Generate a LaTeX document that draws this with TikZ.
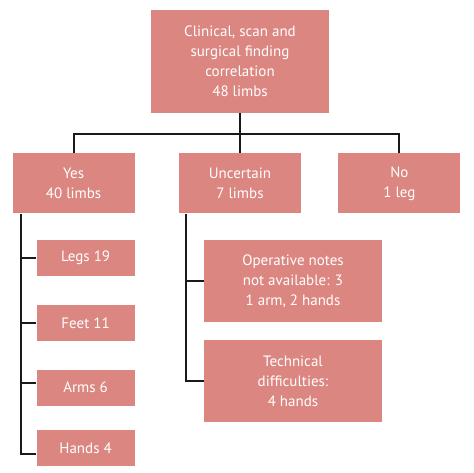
\documentclass[tikz,border=0pt]{standalone}
\usepackage{fontspec}
\setmainfont{PT Sans}
\usetikzlibrary{positioning,calc}
\definecolor{salmon}{RGB}{220,134,129}
\definecolor{linkgray}{RGB}{25,25,25}

\begin{document}
\begin{tikzpicture}[
    x=1pt, y=1pt,
    % --- Node styles ---
    box/.style={fill=salmon, text=white, align=center, inner sep=0pt,
                font=\fontsize{15}{20}\selectfont},
    level/.style={box, minimum width=122pt, minimum height=60pt},
    leaf/.style={box, minimum width=98pt, minimum height=36pt},
    note/.style={box, minimum width=178pt, minimum height=82pt},
    % --- Edge styles ---
    link/.style={draw=linkgray, line width=2pt},
]
\useasboundingbox (0,0) rectangle (474,-473);

% === Root ===
\node[box, minimum width=178pt, minimum height=103pt] (top) at (240,-61.5)
  {Clinical, scan and\\surgical finding\\correlation\\48 limbs};

% === Second level ===
\node[level, below=40pt of top] (unc) {Uncertain\\7 limbs};
\node[level, left=44pt of unc] (yes) {Yes\\40 limbs};
\node[level, right=37pt of unc] (no) {No\\1 leg};

% === Yes branch ===
\node[leaf, below right=26pt and 24pt of yes.south west, anchor=north west] (legs) {Legs 19};
\node[leaf, below=29pt of legs] (feet) {Feet 11};
\node[leaf, below=28pt of feet] (arms) {Arms 6};
\node[leaf, below=24pt of arms] (hands) {Hands 4};

% === Uncertain branch ===
\node[note, below right=26pt and 25pt of unc.south west, anchor=north west] (op)
  {Operative notes\\not available: 3\\1 arm, 2 hands};
\node[note, below=18pt of op] (tech) {Technical\\difficulties:\\4 hands};

% --- Connectors ---
\coordinate (bar) at ($(top.south)!0.525!(unc.north)$);
\draw[link] (top.south) -- (unc.north);
\draw[link] (yes.north) |- (bar) -| (no.north);

\coordinate (yspine) at ([xshift=9pt]yes.south west);
\draw[link] (yspine) |- ([yshift=-6pt]hands.west);
\foreach \leaf in {legs,feet}
  \draw[link] (\leaf.west) -- (\leaf.west -| yspine);
\draw[link] ([yshift=5pt]arms.west) -- ([yshift=5pt]arms.west -| yspine);

\coordinate (uspine) at ([xshift=7pt]unc.south west);
\draw[link] (uspine) |- (tech.west);
\draw[link] (op.west) -- (op.west -| uspine);

\end{tikzpicture}
\end{document}
